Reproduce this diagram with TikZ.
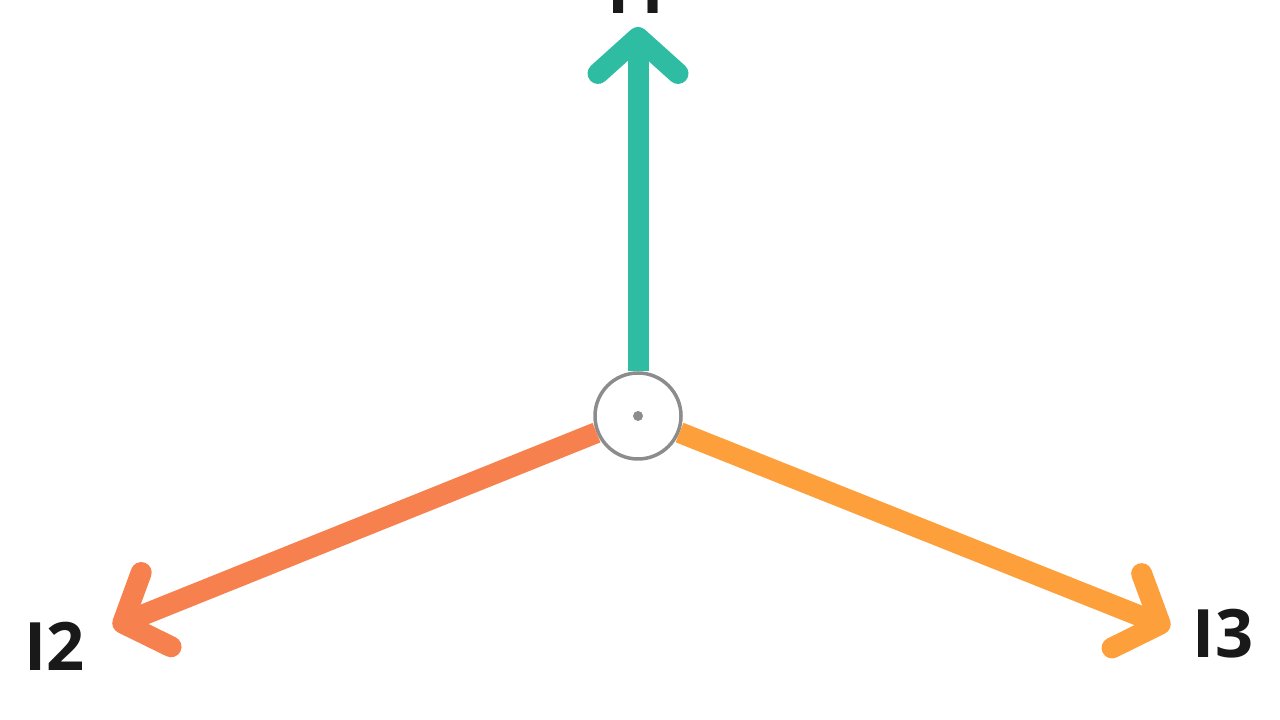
\documentclass[tikz,border=0pt]{standalone}
\usepackage{fontspec}
\setmainfont{Open Sans}
\usetikzlibrary{arrows.meta, positioning}
\definecolor{curA}{HTML}{2EBDA3}
\definecolor{curB}{HTML}{F7804F}
\definecolor{curC}{HTML}{FDA03C}
\definecolor{hub}{HTML}{8C8C8C}

\begin{document}
\begin{tikzpicture}[
    current/.style={line width=0.21cm, line cap=butt, -{Straight Barb[round, length=0.36cm, width=0.80cm]}},
    lbl/.style={font=\fontsize{19}{22}\selectfont\bfseries, text=black!90, inner sep=0pt},
    junction/.style={circle, draw=hub, line width=0.035cm, fill=white, minimum size=0.86cm, inner sep=0pt}]
    \useasboundingbox (0,0) rectangle (12.8,7.2);
    \node[junction] (c) at (6.38,3.04) {};
    \fill[hub] (c.center) circle (0.05);
    \coordinate (t1) at (6.38,6.93);
    \coordinate (t2) at (1.13,0.93);
    \coordinate (t3) at (11.70,0.92);
    \draw[current, curA] (c) -- (t1);
    \draw[current, curB] (c) -- (t2);
    \draw[current, curC] (c) -- (t3);
    \node[lbl] (l1) at (6.38,7.30) {I1};
    \node[lbl] (l2) at (0.55,0.74) {I2};
    \node[lbl] (l3) at (12.23,0.86) {I3};
\end{tikzpicture}
\end{document}
